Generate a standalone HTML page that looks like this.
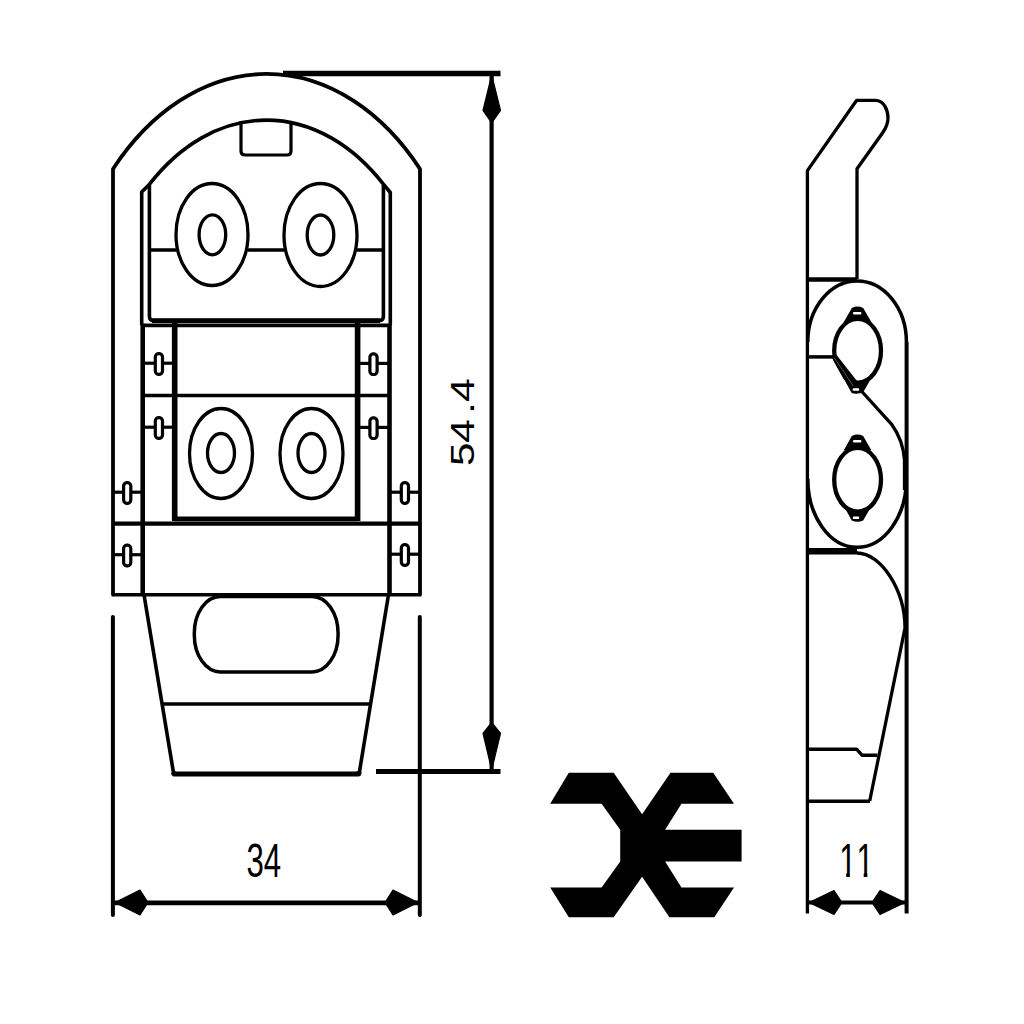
<!DOCTYPE html>
<html><head><meta charset="utf-8"><style>
html,body{margin:0;padding:0;background:#fff;width:1024px;height:1024px;overflow:hidden}
svg{display:block}
text{font-family:"Liberation Sans",sans-serif;fill:#000}
</style></head><body>
<svg width="1024" height="1024" viewBox="0 0 1024 1024">
<rect width="1024" height="1024" fill="#fff"/>
<g fill="none" stroke="#000" stroke-width="3.3" stroke-linecap="butt" stroke-linejoin="round">

<!-- ===== FRONT VIEW ===== -->
<!-- outer shell -->
<path d="M113,594.7 V169 A209.5,297.5 0 0 1 420,169 V594.7" stroke-width="3.8"/>
<line x1="111.5" y1="594.7" x2="421.5" y2="594.7" stroke-width="3.6"/>
<!-- inner shell -->
<path d="M141.7,325 V192 L149.5,184.2 A174,247 0 0 1 383.4,184.2 L390.3,192.5 V325" stroke-width="3.6"/>
<path d="M142.7,324 V594.7 M389.5,324 V594.7" stroke-width="4.6"/>
<path d="M149.4,185 V316 Q149.4,320.6 153.4,320.6 H379.4 Q383.4,320.6 383.4,316 V185" stroke-width="3.6"/>
<line x1="152" y1="320.6" x2="380" y2="320.6" stroke-width="4.7"/>
<!-- tab -->
<path d="M241,121 V151 Q241,155 245,155 H287 Q291,155 291,151 V121" stroke-width="3.2"/>
<!-- upper ellipses -->
<ellipse cx="212" cy="234.5" rx="36" ry="51"/>
<ellipse cx="212.4" cy="234.8" rx="13.3" ry="20"/>
<ellipse cx="320.5" cy="235" rx="36.5" ry="51.5"/>
<ellipse cx="320.5" cy="235" rx="13.3" ry="20"/>
<path d="M149,250 H176.5 M248,250 H284 M357,250 H383.5"/>

<!-- middle section -->
<line x1="142.7" y1="325.3" x2="389.5" y2="325.3" stroke-width="3.8"/>
<path d="M174.7,322 V521 M357.6,322 V521" stroke-width="5.6"/>
<line x1="174.7" y1="518.8" x2="357.6" y2="518.8" stroke-width="4.7"/>
<line x1="143" y1="395.5" x2="389.5" y2="395.5" stroke-width="3.5"/>
<line x1="113" y1="523.6" x2="420" y2="523.6" stroke-width="4.4"/>
<!-- pins -->
<line x1="143" y1="363.2" x2="172" y2="363.2" stroke-width="3.2"/>
<rect x="155.3" y="353.7" width="7.2" height="20.6" rx="3" ry="3.5" fill="#fff" stroke-width="3.2"/>
<line x1="143" y1="427.2" x2="172" y2="427.2" stroke-width="3.2"/>
<rect x="155.3" y="417.7" width="7.2" height="20.6" rx="3" ry="3.5" fill="#fff" stroke-width="3.2"/>
<line x1="360" y1="363.4" x2="389.5" y2="363.4" stroke-width="3.2"/>
<rect x="369.9" y="353.9" width="7.2" height="20.6" rx="3" ry="3.5" fill="#fff" stroke-width="3.2"/>
<line x1="360" y1="427.4" x2="389.5" y2="427.4" stroke-width="3.2"/>
<rect x="369.9" y="417.9" width="7.2" height="20.6" rx="3" ry="3.5" fill="#fff" stroke-width="3.2"/>
<line x1="113" y1="492.2" x2="142.7" y2="492.2" stroke-width="3.2"/>
<rect x="123.60000000000001" y="482.7" width="7.2" height="20.6" rx="3" ry="3.5" fill="#fff" stroke-width="3.2"/>
<line x1="113" y1="554.7" x2="142.7" y2="554.7" stroke-width="3.2"/>
<rect x="123.60000000000001" y="545.2" width="7.2" height="20.6" rx="3" ry="3.5" fill="#fff" stroke-width="3.2"/>
<line x1="389.5" y1="492.2" x2="420" y2="492.2" stroke-width="3.2"/>
<rect x="401.29999999999995" y="482.7" width="7.2" height="20.6" rx="3" ry="3.5" fill="#fff" stroke-width="3.2"/>
<line x1="389.5" y1="554.2" x2="420" y2="554.2" stroke-width="3.2"/>
<rect x="401.29999999999995" y="544.7" width="7.2" height="20.6" rx="3" ry="3.5" fill="#fff" stroke-width="3.2"/>
<!-- lower ellipses -->
<ellipse cx="221" cy="453.5" rx="31.5" ry="45"/>
<ellipse cx="221" cy="453" rx="13.5" ry="19.5"/>
<ellipse cx="311.5" cy="453.5" rx="31.5" ry="45"/>
<ellipse cx="311.5" cy="453" rx="13.5" ry="19.5"/>

<!-- bottom bar -->
<path d="M144,594.7 L173.8,774.6 M359,774.6 L388.5,594.7" stroke-width="3.6"/>
<path d="M173.4,772 L174.2,774 H358.6 L359.1,771.5" stroke-width="5.2" stroke-linejoin="round"/>
<line x1="163" y1="704" x2="369" y2="704" stroke-width="3.5"/>
<rect x="194.3" y="596.5" width="143.8" height="75.4" rx="26" ry="37" stroke-width="3.5"/>

<!-- dimensions front -->
<path d="M112.9,617 V915 M419.8,617 V915" stroke-width="4" stroke-linecap="round"/>
<line x1="113" y1="902.8" x2="420" y2="902.8" stroke-width="4.8"/>
<line x1="283" y1="73.5" x2="500.5" y2="73.5" stroke-width="5.5"/>
<line x1="376" y1="771.5" x2="500.5" y2="771.5" stroke-width="5"/>
<line x1="491.6" y1="74" x2="491.6" y2="771" stroke-width="4.2"/>
</g>
<g fill="#000" stroke="#000" stroke-width="1.2" stroke-linejoin="round">
<polygon points="491.7,75 483,110.5 491.7,123 500.5,110.5"/>
<polygon points="491.7,770 483,733.3 491.7,722.5 500.5,733.3"/>
<polygon points="115,902.5 140,890 148,902.5 140,915"/>
<polygon points="418,902.5 393,890 385,902.5 393,915"/>
<polygon points="809,902.5 834,890.5 842,902.5 834,914.5"/>
<polygon points="905,902.5 880,890.5 872,902.5 880,914.5"/>
</g>

<!-- ===== SIDE VIEW ===== -->
<g fill="none" stroke="#000" stroke-width="3.3" stroke-linecap="butt" stroke-linejoin="round">
<path d="M807.4,913.5 V170.6 L856.7,100.3 H875 C884,100 888,110 888,118 C888,124 886,128 882.5,133 L857,168.8 V279"/>
<line x1="807.4" y1="279.5" x2="857" y2="279.5" stroke-width="4.5"/>
<line x1="906.6" y1="342" x2="906.6" y2="913.5" stroke-width="4"/>
<!-- big stadium -->
<path d="M807.8,342.1 A49.3,61 0 0 1 906.4,342.1" stroke-width="3.5"/>
<path d="M807.8,478.7 A49.3,68.6 0 0 0 906.4,478.7" stroke-width="3.5"/>
<!-- holes -->
<ellipse cx="857.6" cy="350.8" rx="23.4" ry="31.9" stroke-width="4.3"/>
<path d="M851.8,307.90000000000003 Q857.5,305.1 863.2,307.90000000000003 L871.5,322.3 L857.6,318.3 L843.7,322.3 Z" fill="#000" stroke="none"/>
<path d="M851.8,392.2 Q857.5,395.0 863.2,392.2 L871.5,377.8 L857.6,381.8 L843.7,377.8 Z" fill="#000" stroke="none"/>
<rect x="853" y="311.90000000000003" width="8.4" height="2.6" rx="1" fill="#fff" stroke="none"/>
<rect x="852.8" y="388.2" width="6.4" height="2.5" rx="1" fill="#fff" stroke="none"/>
<polygon points="829,361 832.7,359.4 851.2,392.6 846,393" fill="#fff" stroke="none"/>
<polygon points="831.6,357.1 835.2,353.2 856.6,380.4 857,393.8 851.9,393.2" fill="#000" stroke="none"/>
<line x1="834.4" y1="357.8" x2="853.2" y2="386" stroke="#777" stroke-width="0.7"/>
<rect x="852.6" y="388.2" width="5.6" height="2.5" rx="1" fill="#fff" stroke="none"/>
<ellipse cx="857.6" cy="479.8" rx="23.4" ry="31.9" stroke-width="4.3"/>
<path d="M851.8,436.0 Q857.5,433.2 863.2,436.0 L871.5,450.4 L857.6,446.4 L843.7,450.4 Z" fill="#000" stroke="none"/>
<path d="M851.8,520.4 Q857.5,523.2 863.2,520.4 L871.5,506 L857.6,510 L843.7,506 Z" fill="#000" stroke="none"/>
<rect x="853" y="440.0" width="8.4" height="2.6" rx="1" fill="#fff" stroke="none"/>
<rect x="852.8" y="516.4" width="6.4" height="2.5" rx="1" fill="#fff" stroke="none"/>
<line x1="807.4" y1="356.9" x2="834" y2="356.9" stroke-width="3.5"/>
<!-- S-curve -->
<path d="M862.3,392 L891.9,424.7 Q903,440 904.5,460 V490" stroke-width="3.3"/>
<!-- lower -->
<line x1="807.4" y1="551.2" x2="857" y2="551.2" stroke-width="6.5"/>
<path d="M857,553 C881,553 905,590 905,628 L869.7,801" stroke-width="3.3"/>
<path d="M807.4,749.2 H856.6 L862,755.2 H877.3" stroke-width="3.4"/>
<line x1="807.4" y1="801.3" x2="870" y2="801.3" stroke-width="3.5"/>
<line x1="807.4" y1="902.5" x2="906.4" y2="902.5" stroke-width="4"/>
</g>

<!-- ===== LOGO ===== -->
<polygon fill="#000" points="568.8,772.8 613.7,772.8 642.1,814.3 670.5,772.8 713.2,772.8 734,803.8 681.5,803.8 665.1,829.7 741.6,829.7 741.6,861.4 665.1,861.4 681.5,887.6 734,887.6 714.3,917.2 669.4,917.2 642.1,876.7 613.7,917.2 568.8,917.2 550.2,887.6 601.6,887.6 620.2,861.4 620.2,829.7 601.6,803.8 550.2,803.8"/>

<!-- ===== TEXT ===== -->
<text x="0" y="0" font-size="48" transform="translate(246.5,876.5) scale(0.65,1)">34</text>
<text x="0" y="0" font-size="48" transform="translate(839.2,876.5) scale(0.64,1)">1</text>
<text x="0" y="0" font-size="48" transform="translate(856.5,876.5) scale(0.64,1)">1</text>
<path d="M838,872.7 H846.4 M849.7,872.7 H863.9 M867.2,872.7 H875" stroke="#fff" stroke-width="0"/>
<rect x="838" y="872.6" width="8.2" height="4.6" fill="#fff"/><rect x="849.9" y="872.6" width="13.8" height="4.6" fill="#fff"/><rect x="867.4" y="872.6" width="8" height="4.6" fill="#fff"/>
<g font-size="33">
<text transform="translate(473.75,466) rotate(-90) scale(1.28,1)">5</text>
<text transform="translate(473.75,443) rotate(-90) scale(1.3,1)">4</text>
<text transform="translate(473.75,414) rotate(-90) scale(1.3,1)">.</text>
<text transform="translate(473.75,402) rotate(-90) scale(1.3,1)">4</text>
</g>
</svg>
</body></html>
